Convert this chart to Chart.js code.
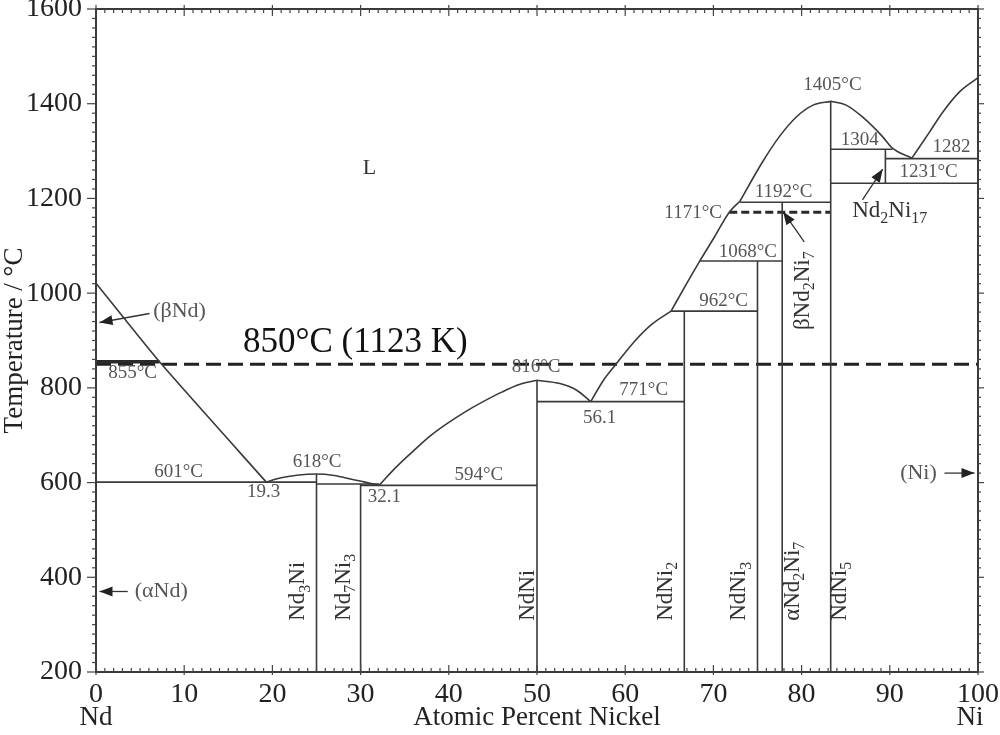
<!DOCTYPE html>
<html><head><meta charset="utf-8">
<script src="https://cdn.jsdelivr.net/npm/chart.js@4"></script>
<style>html,body{margin:0;padding:0;background:#fff}#wrap{width:1000px;height:735px;position:relative}</style>
</head><body><div id="wrap"><canvas id="c"></canvas></div>
<script>
// ---------- DATA (x = at.% Ni, y = T / °C) ----------
const xTickLabels = [0,10,20,30,40,50,60,70,80,90,100];
const yTickLabels = [200,400,600,800,1000,1200,1400,1600];

// liquidus branches
const liqNd      = [[0,1021],[7.2,855],[19.3,601]];
const liqNd3Ni   = [[19.3,601],[21,610],[23,616],[25,618],[27,615],[29,607],[30.5,601],[32.1,594]];
const liqNdNiL   = [[32.1,594],[34,632],[36,667],[38,700],[40,727],[42,751],[44,772],[46,791],[48,807],[50,816]];
const liqNdNiR   = [[50,816],[52.6,809],[54.5,795],[56.1,771]];
const liqNdNi2   = [[56.1,771],[57.5,815],[59,851],[61,897],[63,934],[65.2,962]];
const liqMid     = [[65.2,962],[66.8,1015],[68.4,1066],[70.1,1118],[71.8,1171],[73.0,1194]];
const liqNdNi5L  = [[73.0,1194],[75.6,1278],[77.5,1331],[79.4,1372],[81.3,1397],[83.3,1405]];
const liqNdNi5R  = [[83.3,1405],[85.05,1397],[86.9,1372],[89.2,1330],[90.3,1306],[92.5,1285]];
const liqNi      = [[92.5,1285],[94.5,1340],[96.0,1382],[97.9,1425],[100,1455]];

// invariant isotherms [xStart, xEnd, T]
const isotherms = [[0,25,601],[25,32.1,597],[30,50,594],[50,66.7,771],[65.2,75,962],
                   [68.4,77.8,1068],[73.0,83.3,1192],[83.3,90.3,1304],[89.5,100,1284],[83.3,100,1232]];
const betaNdTransition = [0,7.2,855];
const nd2ni7Transition = [71.8,83.3,1171];
const reference850 = [0,100,850];

// compounds
const compoundNames = ['Nd_{3}Ni','Nd_{7}Ni_{3}','NdNi','NdNi_{2}','NdNi_{3}','αNd_{2}Ni_{7}','NdNi_{5}'];
const compoundX     = [25,30,50,66.7,75,77.8,83.3];
const compoundTop   = [618,597,816,962,1068,1192,1405];
const compoundLabelX= [22.9,28.1,49.0,64.6,72.9,79.0,84.3];
const nd2ni17Line   = [89.5,1232,1304];

// temperature / composition annotations [text, x, T]
const smallLabels = [
  ['855°C',4.15,831],['601°C',9.36,623],['19.3',19.0,581],['618°C',25.06,644],['32.1',32.7,570],
  ['594°C',43.4,616],['816°C',49.9,845],['771°C',62.1,795],['56.1',57.1,736],['962°C',71.15,984],
  ['1068°C',73.9,1086],['1171°C',67.7,1170],['1192°C',77.95,1213],['1405°C',83.5,1440],
  ['1304',86.6,1323],['1282',97.0,1308],['1231°C',94.4,1256]
];
// phase labels with arrows: [text, textX, textT, tailX, tailT, tipX, tipT]
const arrowLabels = [
  ['(βNd)',9.47,961,6.07,957,0.4,938],
  ['(αNd)',7.39,370,3.6,370,0.4,370],
  ['(Ni)',93.25,620,96.2,620,99.6,620],
  ['Nd_{2}Ni_{17}',90.0,1173,86.9,1197,89.2,1262]
];
const betaNd2Ni7Label = ['βNd_{2}Ni_{7}',80.1,922,80.3,1108,77.9,1172];
const liquidLabel = ['L',31.0,1264];
const refLabel = ['850°C (1123 K)',29.4,896];

// ---------- CHART ----------
const LINE = '#3a3a3a';
const pts = a => a.map(p => ({x:p[0], y:p[1]}));
function ds(points, extra){ return Object.assign({data:pts(points), showLine:true, pointRadius:0, pointHoverRadius:0,
  borderColor:LINE, borderWidth:1.6, fill:false, clip:false, tension:0}, extra||{}); }
const curve = {cubicInterpolationMode:'monotone'};

const datasets = [];
datasets.push(ds(liqNd,{tension:0.2}));
[liqNd3Ni,liqNdNiL,liqNdNiR,liqNdNi2,liqMid,liqNdNi5L,liqNdNi5R,liqNi].forEach(c=>datasets.push(ds(c,curve)));
isotherms.forEach(i=>datasets.push(ds([[i[0],i[2]],[i[1],i[2]]])));
compoundX.forEach((cx,k)=>datasets.push(ds([[cx,200],[cx,compoundTop[k]]])));
datasets.push(ds([[nd2ni17Line[0],nd2ni17Line[1]],[nd2ni17Line[0],nd2ni17Line[2]]]));
datasets.push(ds([[betaNdTransition[0],betaNdTransition[2]],[betaNdTransition[1],betaNdTransition[2]]],{borderWidth:3.5,borderColor:'#2a2a2a'}));
datasets.push(ds([[nd2ni7Transition[0],nd2ni7Transition[2]],[nd2ni7Transition[1],nd2ni7Transition[2]]],{borderWidth:3,borderColor:'#2a2a2a',borderDash:[8,4]}));
datasets.push(ds([[reference850[0],reference850[2]],[reference850[1],reference850[2]]],{borderWidth:3,borderColor:'#222',borderDash:[15,7]}));

const SERIF = '"Liberation Serif","DejaVu Serif",serif';

function richSegments(t){ const out=[]; const re=/_\{([^}]*)\}/g; let last=0,m;
  while((m=re.exec(t))){ if(m.index>last) out.push([t.slice(last,m.index),false]); out.push([m[1],true]); last=re.lastIndex; }
  if(last<t.length) out.push([t.slice(last),false]); return out; }
function drawRich(ctx,text,x,y,size,color,align,rot){
  const segs=richSegments(text); const sub=Math.round(size*0.7);
  let w=0; segs.forEach(s=>{ctx.font=(s[1]?sub:size)+'px '+SERIF; s.push(ctx.measureText(s[0]).width); w+=s[2];});
  ctx.save(); ctx.translate(x,y); if(rot) ctx.rotate(rot);
  let cx = align==='left'?0:-w/2; ctx.fillStyle=color; ctx.textBaseline='middle'; ctx.textAlign='left';
  segs.forEach(s=>{ ctx.font=(s[1]?sub:size)+'px '+SERIF; ctx.fillText(s[0],cx,s[1]?size*0.32:0); cx+=s[2]; });
  ctx.restore(); }
function arrow(ctx,x1,y1,x2,y2){
  ctx.save(); ctx.strokeStyle='#333'; ctx.fillStyle='#222'; ctx.lineWidth=1.3;
  ctx.beginPath(); ctx.moveTo(x1,y1); ctx.lineTo(x2,y2); ctx.stroke();
  const a=Math.atan2(y2-y1,x2-x1), L=13, W=5;
  ctx.beginPath(); ctx.moveTo(x2,y2);
  ctx.lineTo(x2-L*Math.cos(a)+W*Math.sin(a), y2-L*Math.sin(a)-W*Math.cos(a));
  ctx.lineTo(x2-L*Math.cos(a)-W*Math.sin(a), y2-L*Math.sin(a)+W*Math.cos(a));
  ctx.closePath(); ctx.fill(); ctx.restore(); }

const decor = {
  id:'decor',
  afterDatasetsDraw(chart){
    const {ctx, chartArea:a, scales:{x,y}} = chart;
    const X=v=>x.getPixelForValue(v), Y=v=>y.getPixelForValue(v);
    ctx.save();
    // frame
    ctx.strokeStyle='#3a3a3a'; ctx.lineWidth=2;
    ctx.strokeRect(a.left,a.top,a.right-a.left,a.bottom-a.top);
    // ticks
    ctx.lineWidth=1.2; ctx.strokeStyle='#444';
    const L=(x1,y1,x2,y2)=>{ctx.beginPath();ctx.moveTo(x1,y1);ctx.lineTo(x2,y2);ctx.stroke();};
    for(let v=x.min; v<=x.max; v+=1){ const maj=v%10===0, px=X(v);
      L(px,a.bottom,px,a.bottom-(maj?7:4)); L(px,a.top,px,a.top+(maj?7:4)); if(maj){L(px,a.top,px,a.top-4);L(px,a.bottom,px,a.bottom+3);} }
    for(let t=y.min; t<=y.max; t+=20){ const maj=t%200===0, py=Y(t);
      L(a.left,py,a.left-(maj?9:4),py); L(a.right,py,a.right+(maj?6:3),py); }
    // axis titles
    ctx.fillStyle='#222'; ctx.font='27px '+SERIF; ctx.textAlign='center'; ctx.textBaseline='middle';
    ctx.fillText('Atomic Percent Nickel',(a.left+a.right)/2,718);
    ctx.fillText('Nd',X(0),718); ctx.fillText('Ni',X(100)-8,718);
    ctx.save(); ctx.translate(15,(a.top+a.bottom)/2); ctx.rotate(-Math.PI/2);
    ctx.fillText('Temperature / °C',0,0); ctx.restore();
    // labels
    smallLabels.forEach(l=>drawRich(ctx,l[0],X(l[1]),Y(l[2]),19,'#555','center'));
    arrowLabels.forEach(l=>{ drawRich(ctx,l[0],X(l[1]),Y(l[2]),l[0].indexOf('_')>=0?23:22,l[0].indexOf('_')>=0?'#333':'#555','center');
      arrow(ctx,X(l[3]),Y(l[4]),X(l[5]),Y(l[6])); });
    const b=betaNd2Ni7Label;
    drawRich(ctx,b[0],X(b[1]),Y(b[2]),23,'#333','left',-Math.PI/2);
    arrow(ctx,X(b[3]),Y(b[4]),X(b[5]),Y(b[6]));
    compoundNames.forEach((n,k)=>drawRich(ctx,n,X(compoundLabelX[k]),Y(308),23,'#333','left',-Math.PI/2));
    drawRich(ctx,liquidLabel[0],X(liquidLabel[1]),Y(liquidLabel[2]),22,'#333','center');
    drawRich(ctx,refLabel[0],X(refLabel[1]),Y(refLabel[2]),35,'#111','center');
    ctx.restore();
  }
};

new Chart(document.getElementById('c'), {
  type:'scatter',
  data:{datasets},
  options:{
    responsive:true, maintainAspectRatio:false, animation:false, devicePixelRatio:1,
    layout:{padding:{top:9,right:22,left:0,bottom:0}},
    plugins:{legend:{display:false},tooltip:{enabled:false}},
    scales:{
      x:{type:'linear',min:0,max:100,
        ticks:{stepSize:10,padding:6,color:'#222',font:{family:SERIF,size:28},maxRotation:0,
          callback:v=>xTickLabels.includes(v)?String(v):''},
        grid:{display:false,drawTicks:false},border:{display:false},
        afterFit:s=>{s.height=63;s.paddingLeft=0;s.paddingRight=0;}},
      y:{type:'linear',min:200,max:1600,
        ticks:{stepSize:200,padding:14,color:'#222',font:{family:SERIF,size:28},
          callback:v=>yTickLabels.includes(v)?String(v):''},
        grid:{display:false,drawTicks:false},border:{display:false},
        afterFit:s=>{s.width=96;s.paddingTop=0;s.paddingBottom=0;}}
    }
  },
  plugins:[decor]
});
</script></body></html>
